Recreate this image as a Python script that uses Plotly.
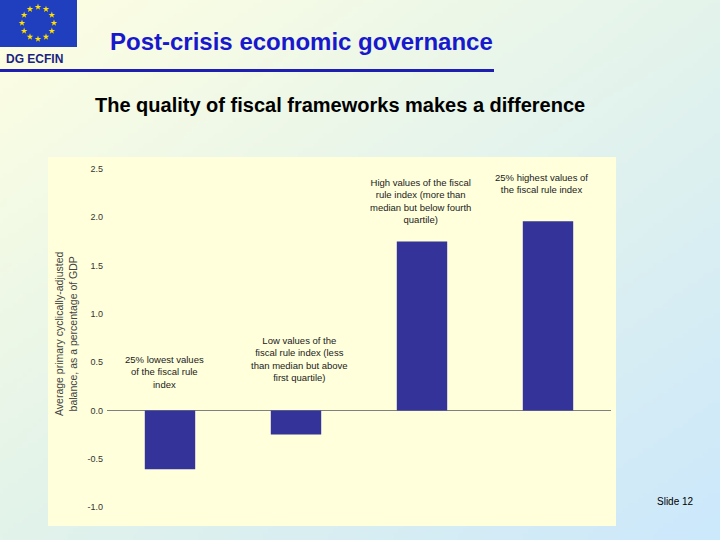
import zlib, struct, base64, math
import numpy as np
import plotly.graph_objects as go

# ---- data ----
categories = ["25% lowest", "Low", "High", "25% highest"]
values = [-0.61, -0.25, 1.75, 1.96]
bar_labels = [
    "25% lowest values<br>of the fiscal rule<br>index",
    "Low values of the<br>fiscal rule index (less<br>than median but above<br>first quartile)",
    "High values of the fiscal<br>rule index (more than<br>median but below fourth<br>quartile)",
    "25% highest values of<br>the fiscal rule index",
]
label_y = [0.40, 0.53, 2.17, 2.35]
tick_vals = [-1.0, -0.5, 0.0, 0.5, 1.0, 1.5, 2.0, 2.5]
tick_text = ["-1.0", "-0.5", "0.0", "0.5", "1.0", "1.5", "2.0", "2.5"]

W, H = 720, 540

def make_png(arr):
    h, w, _ = arr.shape
    raw = b"".join(b"\x00" + arr[i].tobytes() for i in range(h))
    def chunk(t, d):
        c = struct.pack(">I", len(d)) + t + d
        return c + struct.pack(">I", zlib.crc32(t + d) & 0xffffffff)
    return (b"\x89PNG\r\n\x1a\n"
            + chunk(b"IHDR", struct.pack(">IIBBBBB", w, h, 8, 2, 0, 0, 0))
            + chunk(b"IDAT", zlib.compress(raw))
            + chunk(b"IEND", b""))

gw, gh = 144, 108
tl = np.array([255, 255, 226.0]); tr = np.array([228, 244, 236.0])
bl = np.array([226, 243, 234.0]); br = np.array([204, 232, 252.0])
u = np.linspace(0, 1, gw)[None, :, None]
v = np.linspace(0, 1, gh)[:, None, None]
grad = (tl * (1 - u) * (1 - v) + tr * u * (1 - v) + bl * (1 - u) * v + br * u * v)
grad = np.clip(grad, 0, 255).astype(np.uint8)
bg_uri = "data:image/png;base64," + base64.b64encode(make_png(grad)).decode()

def px_x(x):
    return x / W

def px_y(y):
    return 1 - y / H

fig = go.Figure()
fig.add_trace(go.Bar(
    x=categories, y=values, width=0.4,
    marker=dict(color="#333399", line=dict(width=0)),
    hoverinfo="skip",
))

# EU flag stars (decoration), drawn as star markers on a small overlay axis
cx, cy, r = 38, 23, 16
star_x = [cx + r * math.sin(2 * math.pi * k / 12) for k in range(12)]
star_y = [cy - r * math.cos(2 * math.pi * k / 12) for k in range(12)]
fig.add_trace(go.Scatter(
    x=star_x, y=star_y, mode="markers", xaxis="x2", yaxis="y2",
    marker=dict(symbol="star", size=5, color="#FFE000", line=dict(width=0)),
    hoverinfo="skip",
))

y_top_px, y_bot_px = 169, 507
fig.update_layout(
    width=W, height=H,
    margin=dict(l=0, r=0, t=0, b=0),
    paper_bgcolor="white",
    plot_bgcolor="rgba(0,0,0,0)",
    showlegend=False,
    font=dict(family="Liberation Sans, Arial, sans-serif"),
    xaxis=dict(domain=[px_x(107), px_x(611)], range=[-0.5, 3.5],
               showticklabels=False, showgrid=False, zeroline=False,
               showline=False, ticks="", automargin=False),
    yaxis=dict(domain=[px_y(y_bot_px), px_y(y_top_px)], range=[-1.0, 2.5],
               tickvals=tick_vals, ticktext=tick_text,
               tickfont=dict(size=9, color="#333333"), automargin=False,
               ticklabelstandoff=3,
               showgrid=False, zeroline=True, zerolinecolor="#808080",
               zerolinewidth=1, showline=False, ticks=""),
    xaxis2=dict(domain=[0, px_x(77)], range=[0, 77], visible=False,
                anchor="y2"),
    yaxis2=dict(domain=[px_y(47), 1], range=[47, 0], visible=False,
                anchor="x2"),
    images=[dict(source=bg_uri, xref="paper", yref="paper", x=0, y=1,
                 sizex=1, sizey=1, sizing="stretch", layer="below")],
)

shapes = [
    dict(type="rect", xref="paper", yref="paper",
         x0=px_x(48), x1=px_x(616), y0=px_y(526), y1=px_y(157),
         fillcolor="#FFFFDC", line=dict(width=0), layer="below"),
    dict(type="rect", xref="paper", yref="paper",
         x0=0, x1=px_x(77), y0=px_y(47), y1=1,
         fillcolor="#1F3FBF", line=dict(width=0), layer="below"),
    dict(type="line", xref="paper", yref="paper",
         x0=0, x1=px_x(494), y0=px_y(70.5), y1=px_y(70.5),
         line=dict(color="#1E1EB0", width=3)),
]
fig.update_layout(shapes=shapes)

ann = [
    dict(xref="paper", yref="paper", x=px_x(4), y=px_y(59), text="<b>DG ECFIN</b>",
         showarrow=False, xanchor="left", yanchor="middle",
         font=dict(size=12, color="#1A2380", family="Liberation Sans Narrow, Liberation Sans")),
    dict(xref="paper", yref="paper", x=px_x(108), y=px_y(42),
         text="<b>Post-crisis economic governance</b>", showarrow=False,
         xanchor="left", yanchor="middle",
         font=dict(size=24, color="#1818CC")),
    dict(xref="paper", yref="paper", x=px_x(340), y=px_y(105),
         text="<b>The quality of fiscal frameworks makes a difference</b>",
         showarrow=False, xanchor="center", yanchor="middle",
         font=dict(size=20, color="#000000")),
    dict(xref="paper", yref="paper", x=px_x(675), y=px_y(501), text="Slide 12",
         showarrow=False, xanchor="center", yanchor="middle",
         font=dict(size=10, color="#000000")),
    dict(xref="paper", yref="paper", x=px_x(66), y=px_y(334),
         text="Average primary cyclically-adjusted<br>balance, as a percentage of GDP",
         showarrow=False, textangle=-90, xanchor="center", yanchor="middle",
         font=dict(size=10.5, color="#444444")),
]
offsets = [-0.04, 0.03, -0.01, -0.05]
for c, lbl, ly, off in zip(range(len(categories)), bar_labels, label_y, offsets):
    ann.append(dict(xref="x", yref="y", x=c + off, y=ly, text=lbl, showarrow=False,
                    xanchor="center", yanchor="middle", align="center",
                    font=dict(size=9.5, color="#1A1A1A")))
fig.update_layout(annotations=ann)

fig.write_html("out.html", config={"displayModeBar": False},
               post_script="document.body.style.margin='0';document.body.style.padding='0';"
                           "document.documentElement.style.overflow='hidden';")
